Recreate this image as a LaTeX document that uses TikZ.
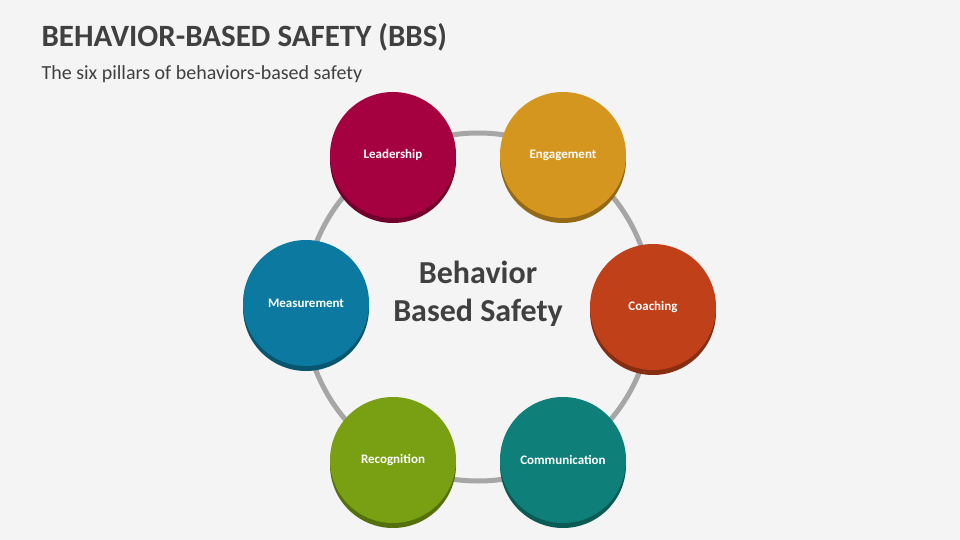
\documentclass[tikz,border=0pt]{standalone}
\usepackage{fontspec}
\setmainfont{Carlito}
\definecolor{bg}{HTML}{F4F4F4}
\definecolor{txt}{HTML}{404040}
\definecolor{ring}{HTML}{A6A6A6}
\definecolor{cL}{HTML}{A5003F}
\definecolor{cE}{HTML}{D4961E}
\definecolor{cC}{HTML}{C0401A}
\definecolor{cK}{HTML}{0F8079}
\definecolor{cR}{HTML}{78A012}
\definecolor{cM}{HTML}{0C7AA0}
\tikzset{
  pillar/.style={circle,minimum size=126pt,inner sep=0pt,fill=#1,text=white,font=\bfseries\fontsize{13}{15}\selectfont},
  pshadow/.style={circle,minimum size=126pt,inner sep=0pt,fill=#1!70!black}
}
\begin{document}
\begin{tikzpicture}[x=1pt,y=-1pt]
\fill[bg] (0,0) rectangle (960,540);
\useasboundingbox (0,0) rectangle (960,540);
\node[anchor=west,text=txt,font=\bfseries\fontsize{31}{36}\selectfont] (title) at (38,37) {BEHAVIOR-BASED SAFETY (BBS)};
\node[anchor=west,text=txt,font=\fontsize{20}{24}\selectfont] (sub) at (38,74) {The six pillars of behaviors-based safety};
\node[circle,draw=ring,line width=5pt,minimum size=348pt,inner sep=0pt] (ringc) at (478,307) {};
\node[text=txt,font=\bfseries\fontsize{32}{38}\selectfont,align=center] (center) at (478,294) {Behavior\\Based Safety};
\foreach \n/\c/\x/\y/\t in {L/cL/393/155/Leadership,E/cE/563/155/Engagement,C/cC/653/307/Coaching,K/cK/563/460/Communication,R/cR/393/460/Recognition,M/cM/306/303/Measurement}{
  \node[pshadow=\c] (s\n) at (\x,\y+5) {};
  \node[pillar=\c] (\n) at (\x,\y) {\t};
}
\end{tikzpicture}
\end{document}
